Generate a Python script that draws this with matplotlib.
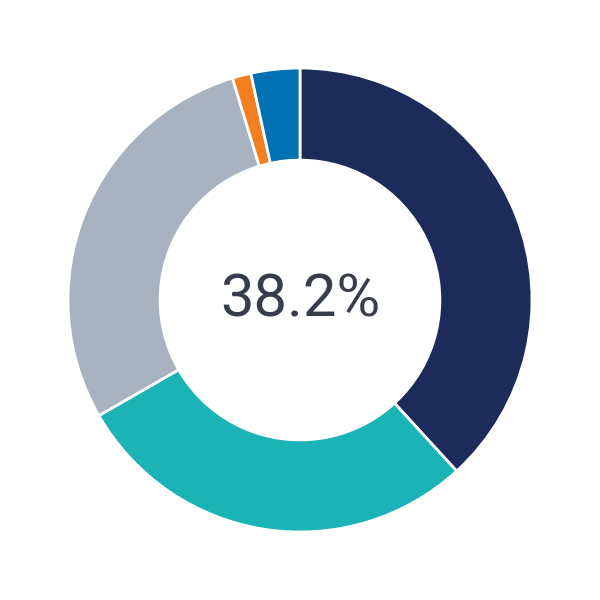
import matplotlib
matplotlib.use("Agg")
import matplotlib.pyplot as plt

# slice shares, clockwise from 12 o'clock
shares = [38.2, 28.5, 28.6, 1.3, 3.4]
colors = ["#1c2b5a", "#1ab3b6", "#a8b3c2", "#f47f20", "#0072b2"]
center_label = "38.2%"

fig = plt.figure(figsize=(6, 6), dpi=100)
ax = fig.add_axes([0, 0, 1, 1])

ax.pie(shares, colors=colors, startangle=90, counterclock=False,
       radius=1.0,
       wedgeprops=dict(width=0.397, edgecolor="white", linewidth=2))

ax.text(0, 0, center_label, ha="center", va="center",
        fontsize=43, color="#373d4a", family=["Roboto", "DejaVu Sans"])

lim = 300 / 232
ax.set_xlim(-lim, lim)
ax.set_ylim(-lim, lim)
ax.set_aspect("equal")
ax.axis("off")

fig.savefig("out.png", dpi=100, facecolor="white")
